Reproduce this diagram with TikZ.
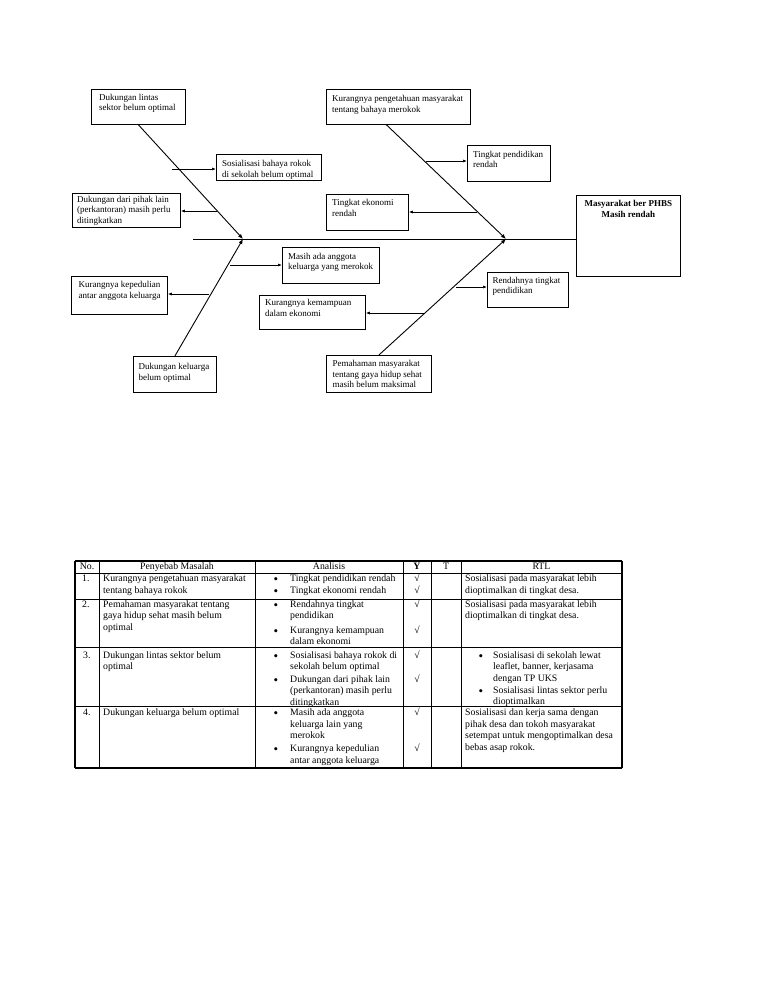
\documentclass[tikz,border=0pt]{standalone}
\usepackage{fontspec}
\setmainfont{Liberation Serif}
\usetikzlibrary{arrows.meta}
\newcommand\tl[1]{\begin{tabular}[t]{@{}l@{}}#1\end{tabular}}
\newcommand\tc[1]{\begin{tabular}[t]{@{}c@{}}#1\end{tabular}}
\newcommand\bul{\raisebox{-2.2pt}{\fontsize{13}{13}\selectfont •}}
% \fbx[baseline offset]{x text offset}{name}{x}{y}{w}{h}{text}
\newcommand\fbx[8][11.5]{%
  \node[fbox, minimum width=#6pt, minimum height=#7pt] (#3) at (#4,#5) {};
  \node[btext] (#3t) at ([shift={(#2pt,-#1pt)}]#3.north west) {\tl{#8}};}
\begin{document}
\begin{tikzpicture}[x=1pt,y=-1pt,
  fbox/.style={draw, line width=0.8pt, inner sep=0pt, anchor=north west},
  btext/.style={inner sep=0pt, anchor=base west, font=\fontsize{9}{10.8}\selectfont},
  bone/.style={line width=0.9pt, -{Latex[length=5pt,width=4pt]}},
  sub/.style={line width=0.7pt, -{Latex[length=4pt,width=3pt]}},
  spine/.style={line width=1pt},
  cell/.style={inner sep=0pt, anchor=base west, font=\fontsize{9.8}{11.5}\selectfont},
  ccell/.style={cell, anchor=base},
  bcell/.style={cell, anchor=base},
  tline/.style={line width=0.8pt},
  touter/.style={line width=1.3pt}]
\useasboundingbox (0,0) rectangle (768,1002);
\fill[white] (0,0) rectangle (768,1002);

% ---------- fishbone ----------
\fbx[11]{8}{b1}{91}{89}{94}{35}{Dukungan lintas\\sektor belum optimal}
\fbx[12.3]{6}{b2}{326}{89}{144}{35}{Kurangnya pengetahuan masyarakat\\tentang bahaya merokok}
\fbx[12.3]{6}{b3}{216}{154}{105}{26}{Sosialisasi bahaya rokok\\di sekolah belum optimal}
\fbx[9]{5}{b4}{72}{193}{108}{34}{Dukungan dari pihak lain\\(perkantoran) masih perlu\\ditingkatkan}
\fbx[11.7]{6}{b5}{326}{194}{82}{36}{Tingkat ekonomi\\rendah}
\fbx[12]{6}{b6}{467}{145}{83}{36}{Tingkat pendidikan\\rendah}
\fbx[12]{6}{b9}{282}{247}{97}{36}{Masih ada anggota\\keluarga yang merokok}
\fbx[11.3]{7.5}{b10}{71}{276}{96}{38}{Kurangnya kepedulian\\antar anggota keluarga}
\fbx[10.7]{6}{b11}{259}{295}{106}{34}{Kurangnya kemampuan\\dalam ekonomi}
\fbx[13.7]{5.5}{b12}{133}{356}{83}{36}{Dukungan keluarga\\belum optimal}
\fbx[11.3]{6.5}{b13}{326}{355}{105}{37}{Pemahaman masyarakat\\tentang gaya hidup sehat\\masih belum maksimal}
\fbx[11]{5.5}{b14}{487}{272}{81}{35}{Rendahnya tingkat\\pendidikan}
\node[fbox, minimum width=104pt, minimum height=81pt] (b7) at (576,195) {};
\node[btext, anchor=base, font=\fontsize{9}{10.8}\selectfont\bfseries] (b7t)
  at ([yshift=-11.3pt]b7.north) {\tc{Masyarakat ber PHBS\\Masih rendah}};

\coordinate (jl) at (243,239);
\coordinate (jr) at (506,239);
\coordinate (sp0) at (193,239);
\draw[spine] (sp0) -- (sp0 -| b7.west);

\draw[bone] (b1.south) -- (jl);
\draw[bone] ([xshift=-12pt]b2.south) -- (jr);
\draw[bone] (b12.north) -- (jl);
\draw[bone] (b13.north) -- (jr);

\coordinate (c3) at (172,169);
\coordinate (c4) at (217,211);
\coordinate (c6) at (426,161);
\coordinate (c5) at (477,212);
\coordinate (c9) at (230,265);
\coordinate (c10) at (209,294);
\coordinate (c14) at (456,287);
\coordinate (c11) at (425,313);
\draw[sub] (c3) -- (c3 -| b3.west);
\draw[sub] (c4) -- (c4 -| b4.east);
\draw[sub] (c6) -- (c6 -| b6.west);
\draw[sub] (c5) -- (c5 -| b5.east);
\draw[sub] (c9) -- (c9 -| b9.west);
\draw[sub] (c10) -- (c10 -| b10.east);
\draw[sub] (c14) -- (c14 -| b14.west);
\draw[sub] (c11) -- (c11 -| b11.east);

% ---------- table ----------
\foreach \yy in {573,599,647,706} \draw[tline] (75,\yy) -- (622,\yy);
\draw[touter] (75,561) -- (622,561);
\draw[touter] (75,768) -- (622,768);
\foreach \xx in {99,255,403,431,461} \draw[tline] (\xx,561) -- (\xx,768);
\draw[touter] (75,561) -- (75,768);
\draw[touter] (622,561) -- (622,768);

\node[ccell] (hno) at (87,569.5) {No.};
\node[ccell] (hpm) at (177,569.5) {Penyebab Masalah};
\node[ccell] (han) at (329,569.5) {Analisis};
\node[ccell] (hy) at (417,569.5) {\textbf{Y}};
\node[ccell] (ht) at (446,569.5) {T};
\node[ccell] (hr) at (541.5,569.5) {RTL};

% row 1
\node[cell] (n1) at (82,581.5) {1.};
\node[cell] (p1) at (103,581.5) {\tl{Kurangnya pengetahuan masyarakat\\tentang bahaya rokok}};
\node[bcell] (a1ab) at (276,581.5) {\bul};
\node[cell] (a1a) at (290,581.5) {Tingkat pendidikan rendah};
\node[bcell] (a1bb) at (276,593.5) {\bul};
\node[cell] (a1b) at (290,593.5) {Tingkat ekonomi rendah};
\node[ccell] (y1a) at (417,581.5) {√};
\node[ccell] (y1b) at (417,593.5) {√};
\node[cell] (r1) at (465,581.5) {\tl{Sosialisasi pada masyarakat lebih\\dioptimalkan di tingkat desa.}};

% row 2
\node[cell] (n2) at (82,607) {2.};
\node[cell] (p2) at (103,607) {\tl{Pemahaman masyarakat tentang\\gaya hidup sehat masih belum\\optimal}};
\node[bcell] (a2ab) at (276,607) {\bul};
\node[cell] (a2a) at (290,607) {\tl{Rendahnya tingkat\\pendidikan}};
\node[bcell] (a2bb) at (276,633) {\bul};
\node[cell] (a2b) at (290,633) {\tl{Kurangnya kemampuan\\dalam ekonomi}};
\node[ccell] (y2a) at (417,607) {√};
\node[ccell] (y2b) at (417,633.5) {√};
\node[cell] (r2) at (465,607) {\tl{Sosialisasi pada masyarakat lebih\\dioptimalkan di tingkat desa.}};

% row 3
\node[cell] (n3) at (83,658) {3.};
\node[cell] (p3) at (103,658) {\tl{Dukungan lintas sektor belum\\optimal}};
\node[bcell] (a3ab) at (276,658) {\bul};
\node[cell] (a3a) at (290,658) {\tl{Sosialisasi bahaya rokok di\\sekolah belum optimal}};
\node[bcell] (a3bb) at (276,682) {\bul};
\node[cell] (a3b) at (290,682) {\tl{Dukungan dari pihak lain\\(perkantoran) masih perlu\\ditingkatkan}};
\node[ccell] (y3a) at (417,658) {√};
\node[ccell] (y3b) at (417,682.5) {√};
\node[bcell] (r3ab) at (481,658) {\bul};
\node[cell] (r3a) at (493,658) {\tl{Sosialisasi di sekolah lewat\\leaflet, banner, kerjasama\\dengan TP UKS}};
\node[bcell] (r3bb) at (481,693) {\bul};
\node[cell] (r3b) at (493,693) {\tl{Sosialisasi lintas sektor perlu\\dioptimalkan}};

% row 4
\node[cell] (n4) at (83,715.5) {4.};
\node[cell] (p4) at (103,715.5) {Dukungan keluarga belum optimal};
\node[bcell] (a4ab) at (276,715.5) {\bul};
\node[cell] (a4a) at (290,715.5) {\tl{Masih ada anggota\\keluarga lain yang\\merokok}};
\node[bcell] (a4bb) at (276,751.5) {\bul};
\node[cell] (a4b) at (290,751.5) {\tl{Kurangnya kepedulian\\antar anggota keluarga}};
\node[ccell] (y4a) at (417,715.5) {√};
\node[ccell] (y4b) at (417,751.5) {√};
\node[cell] (r4) at (465,715.5) {\tl{Sosialisasi dan kerja sama dengan\\pihak desa dan tokoh masyarakat\\setempat untuk mengoptimalkan desa\\bebas asap rokok.}};
\end{tikzpicture}
\end{document}
